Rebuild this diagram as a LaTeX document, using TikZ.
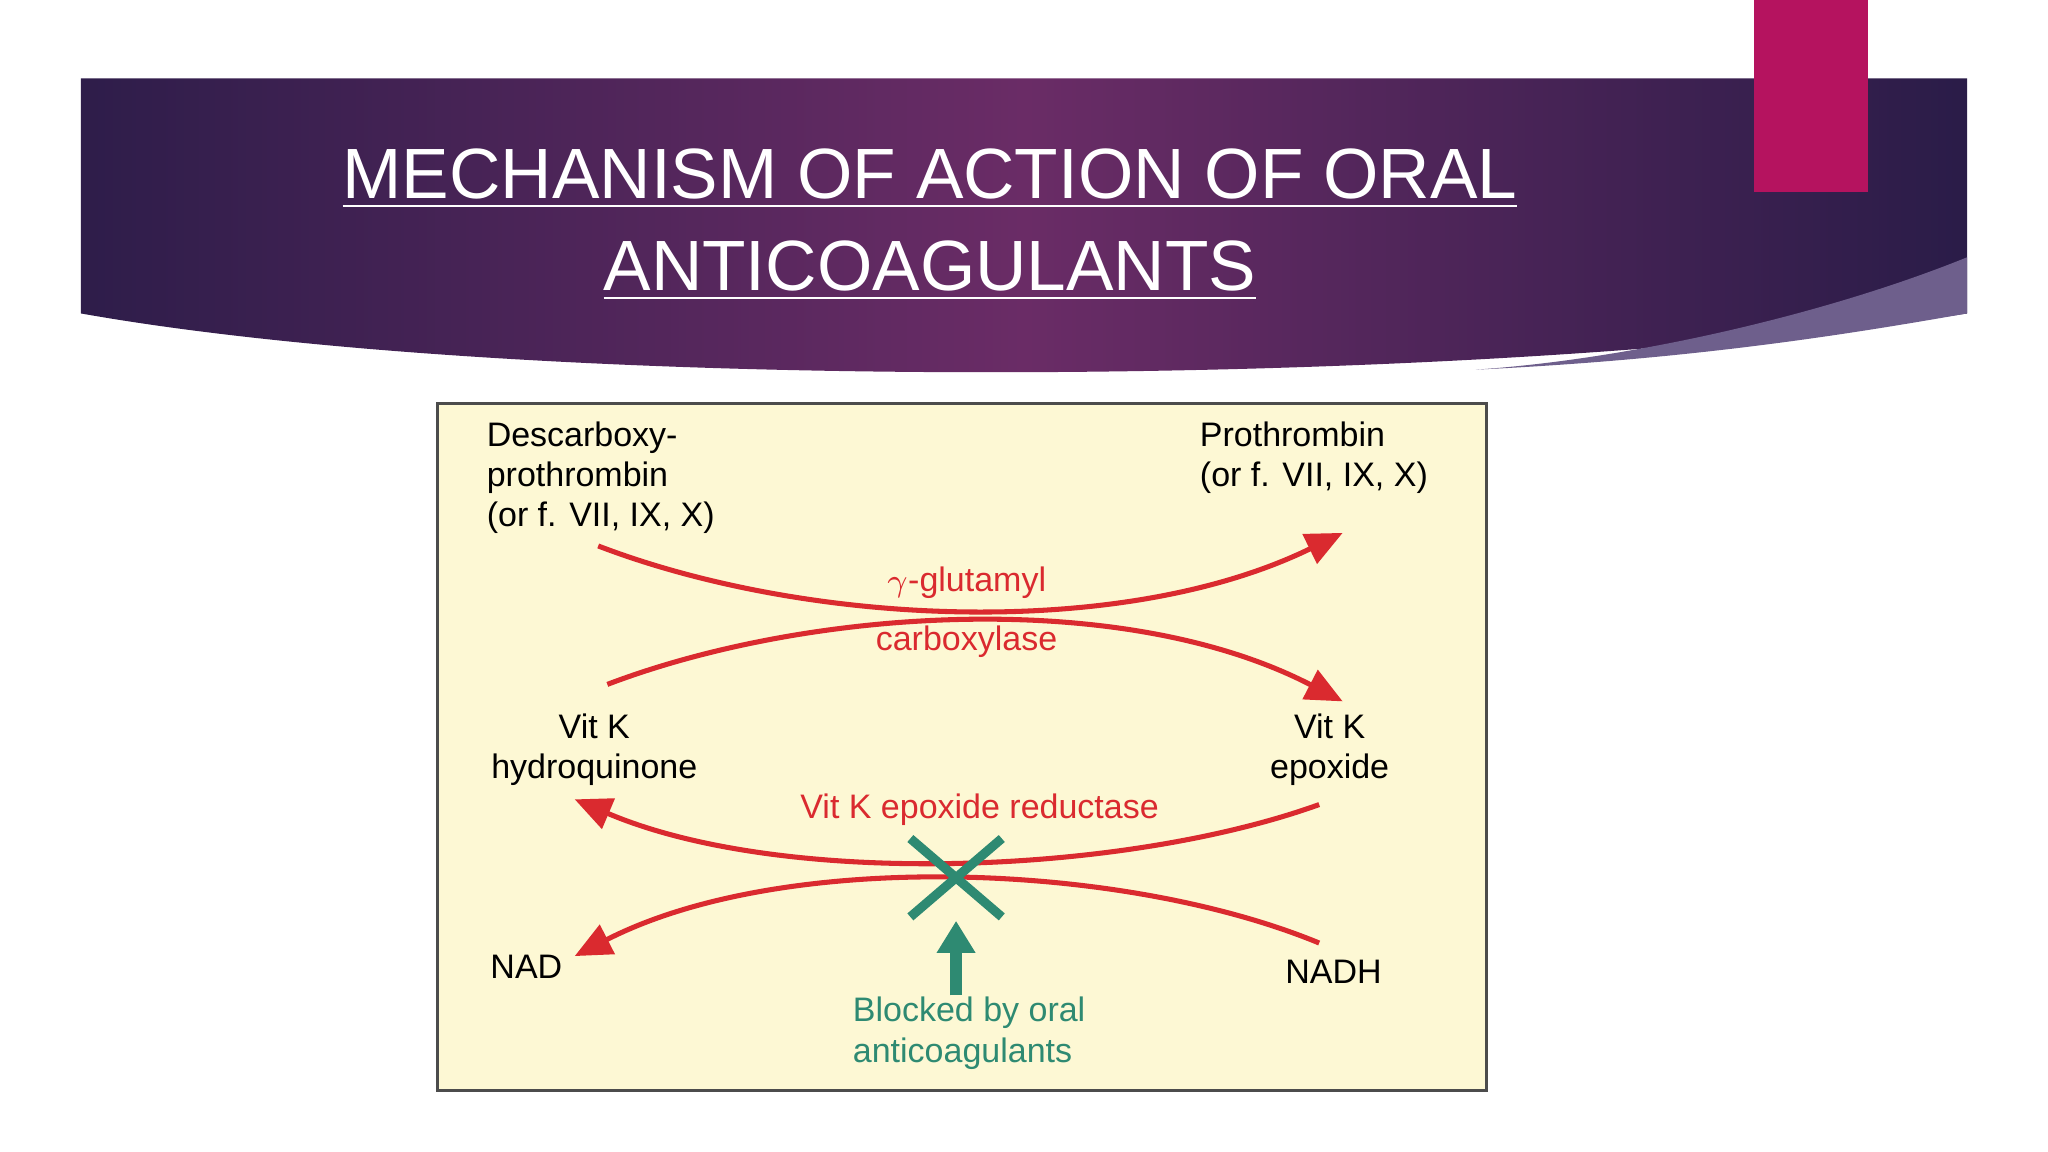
\documentclass[tikz,border=0pt]{standalone}
\usepackage{fontspec}
\setmainfont{Liberation Sans}
\usetikzlibrary{arrows.meta}
\definecolor{redc}{HTML}{DA2A2F}
\definecolor{greenc}{HTML}{2E8A72}
\definecolor{boxc}{HTML}{FDF8D4}
\definecolor{pinkc}{HTML}{B5135F}
\definecolor{bandL}{HTML}{2E1D4A}
\definecolor{bandM}{HTML}{6A2C66}
\definecolor{bandR}{HTML}{2A1C48}
\definecolor{swoosh}{HTML}{6E5F8C}
\tikzset{
  lbl/.style={font=\fontsize{7.4}{8.8}\selectfont, text=black, inner sep=0pt},
  rlbl/.style={font=\fontsize{7.4}{8.8}\selectfont, text=redc, inner sep=0pt},
  rarr/.style={draw=redc, line width=1.1pt, -{Triangle[length=8pt,width=7pt]}},
}
\begin{document}
\begin{tikzpicture}[x=0.01cm,y=-0.01cm]
\useasboundingbox (0,0) rectangle (1568,882);
\fill[white] (0,0) rectangle (1568,882);
% banner
\shade[left color=bandL, right color=bandR, middle color=bandM]
  (62,60) -- (1506,60) -- (1506,240) .. controls (1100,300) and (400,300) .. (62,240) -- cycle;
\fill[swoosh] (1506,197) .. controls (1400,240) and (1250,275) .. (1130,283) .. controls (1300,275) and (1420,255) .. (1506,240) -- cycle;
\fill[pinkc] (1343,0) rectangle (1430,147);
\node[text=white, font=\fontsize{15.5}{20}\selectfont, align=center] (title) at (712,172) {\underline{MECHANISM OF ACTION OF ORAL}\\\underline{ANTICOAGULANTS}};
% box
\draw[fill=boxc, draw=black!70, line width=0.6pt] (335,309) rectangle (1138,835);
% texts
\node[lbl, anchor=north west, align=left] (desc) at (372,322) {Descarboxy-\\prothrombin\\(or f. VII, IX, X)};
\node[lbl, anchor=north west, align=left] (pro) at (918,322) {Prothrombin\\(or f. VII, IX, X)};
\node[lbl, align=center] (hq) at (455,574) {Vit K\\hydroquinone};
\node[lbl, align=center] (ep) at (1018,574) {Vit K\\epoxide};
\node[lbl] (nad) at (403,740) {NAD};
\node[lbl] (nadh) at (1021,744) {NADH};
\node[rlbl] (gl) at (740,446) {$\gamma$-glutamyl};
\node[rlbl] (cb) at (740,491) {carboxylase};
\node[rlbl] (ver) at (750,620) {Vit K epoxide reductase};
\node[font=\fontsize{7.4}{8.8}\selectfont, text=greenc, align=left, inner sep=0pt] (blk) at (742,791) {Blocked by oral\\anticoagulants};
% coordinates
\coordinate (a1) at (458,418); \coordinate (a2) at (1028,408);
\coordinate (b1) at (465,524); \coordinate (b2) at (1028,537);
\coordinate (c1) at (1010,616); \coordinate (c2) at (440,612);
\coordinate (d1) at (1010,722); \coordinate (d2) at (440,732);
\draw[rarr] (a1) .. controls (620,480) and (860,490) .. (a2);
\draw[rarr] (b1) .. controls (620,465) and (860,450) .. (b2);
\draw[rarr] (c1) .. controls (860,670) and (600,680) .. (c2);
\draw[rarr] (d1) .. controls (860,660) and (600,650) .. (d2);
% green X and arrow
\draw[greenc, line width=2pt] (697,642) -- (767,702) (697,702) -- (767,642);
\coordinate (g1) at (732,762); \coordinate (g2) at (732,705);
\draw[greenc, line width=2.5pt, -{Triangle[length=7pt,width=8pt]}] (g1) -- (g2);
\end{tikzpicture}
\end{document}
